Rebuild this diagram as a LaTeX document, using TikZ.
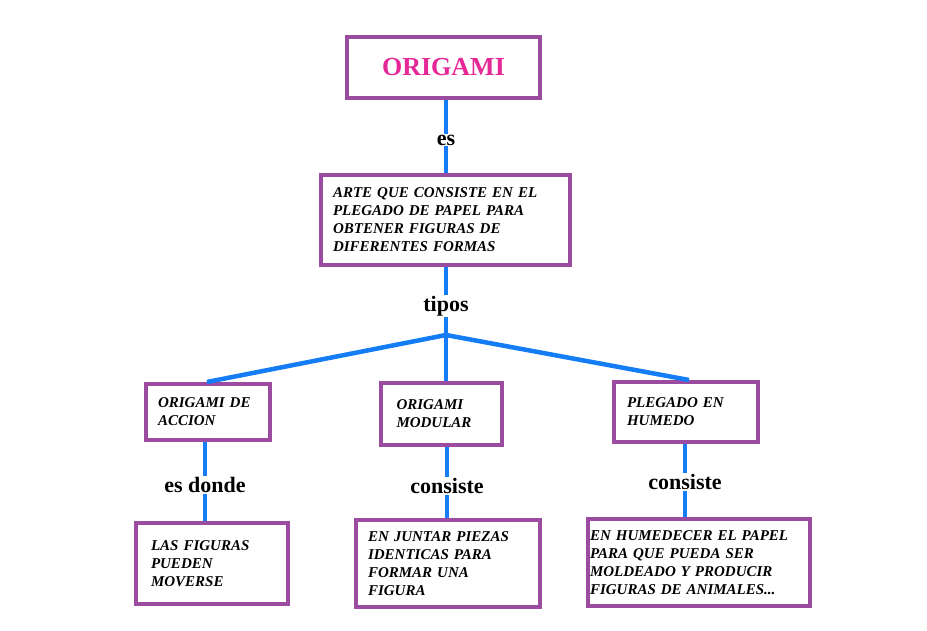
\documentclass[tikz,border=0pt]{standalone}
\usepackage{fontspec}
\setmainfont{Liberation Serif}
\usetikzlibrary{positioning}
\definecolor{boxpurple}{RGB}{155,75,160}
\definecolor{lineblue}{RGB}{20,125,245}
\definecolor{titlepink}{RGB}{230,40,150}

\begin{document}
\begin{tikzpicture}[x=1pt, y=-1pt,
  concept/.style={rectangle, draw=boxpurple, line width=4pt, fill=white, inner sep=0pt, align=left, font=\fontsize{15}{18}\selectfont\bfseries\itshape},
  link/.style={font=\fontsize{22}{24}\selectfont\bfseries, inner sep=1pt},
  conn/.style={draw=lineblue, line width=4.5pt}
]
\useasboundingbox (0,0) rectangle (927,631);

% top
\node[concept, minimum width=193pt, minimum height=61pt, font=\fontsize{26}{28}\selectfont\bfseries, text=titlepink] (origami) at (443.5,67.5) {ORIGAMI};
\node[link] (es) at (446,140) {es};
\node[concept, minimum width=249pt, minimum height=90pt, text width=225pt] (arte) at (445.5,220)
  {ARTE QUE CONSISTE EN EL\\PLEGADO DE PAPEL PARA\\OBTENER FIGURAS DE\\DIFERENTES FORMAS};
\node[link] (tipos) at (446,306) {tipos};
\coordinate (junta) at (446,335);

% types
\node[concept, minimum width=124pt, minimum height=56pt, text width=100pt] (accion) at (208,412) {ORIGAMI DE\\ACCION};
\node[concept, minimum width=121pt, minimum height=62pt, text width=90pt] (modular) at (441.5,414) {ORIGAMI\\MODULAR};
\node[concept, minimum width=144pt, minimum height=60pt, text width=118pt] (humedo) at (686,412) {PLEGADO EN\\HUMEDO};

% links
\node[link] (donde) at (205,485) {es donde};
\node[link] (cons1) at (447,486) {consiste};
\node[link] (cons2) at (685,482) {consiste};

% bottom
\node[concept, minimum width=152pt, minimum height=81pt, text width=122pt] (mover) at (212,563.5) {LAS FIGURAS\\PUEDEN\\MOVERSE};
\node[concept, minimum width=184pt, minimum height=87pt, text width=160pt] (juntar) at (448,563.5) {EN JUNTAR PIEZAS\\IDENTICAS PARA\\FORMAR UNA\\FIGURA};
\node[concept, minimum width=222pt, minimum height=87pt, text width=218pt] (humedecer) at (699,562.5) {EN HUMEDECER EL PAPEL\\PARA QUE PUEDA SER\\MOLDEADO Y PRODUCIR\\FIGURAS DE ANIMALES...};

% connectors
\draw[conn] (origami.south -| es.north) -- (es.north);
\draw[conn] (es.south) -- (es.south |- arte.north);
\draw[conn] (arte.south -| tipos.north) -- (tipos.north);
\draw[conn] (tipos.south) -- (junta);
\draw[conn] (junta) -- (junta |- modular.north);
\draw[conn] (junta) -- ([xshift=-1pt]accion.north);
\draw[conn] (junta) -- ([xshift=3pt]humedo.north);
\draw[conn] (accion.south -| donde.north) -- (donde.north);
\draw[conn] (donde.south) -- (donde.south |- mover.north);
\draw[conn] (modular.south -| cons1.north) -- (cons1.north);
\draw[conn] (cons1.south) -- (cons1.south |- juntar.north);
\draw[conn] (humedo.south -| cons2.north) -- (cons2.north);
\draw[conn] (cons2.south) -- (cons2.south |- humedecer.north);
\end{tikzpicture}
\end{document}
